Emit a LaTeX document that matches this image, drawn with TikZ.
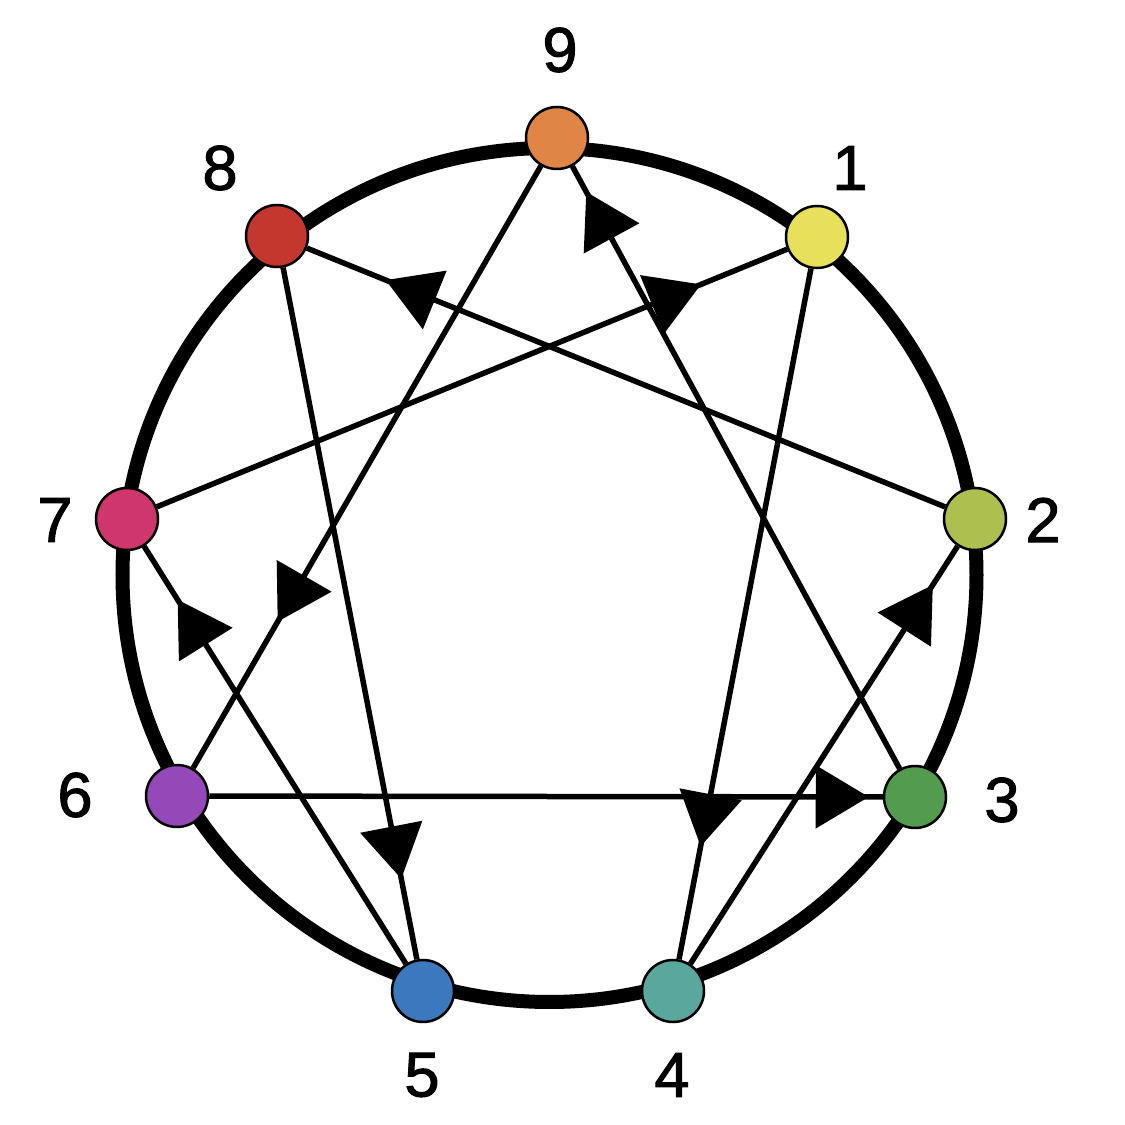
\documentclass[tikz,border=0pt]{standalone}
\usepackage{fontspec}
\setmainfont{Liberation Sans}
\newfontfamily\numfont{Liberation Sans}[RawFeature={embolden=1.6}]
\usetikzlibrary{arrows.meta, decorations.markings}

\definecolor{col9}{HTML}{DF8646}
\definecolor{col1}{HTML}{E6E05A}
\definecolor{col2}{HTML}{ADBF4E}
\definecolor{col3}{HTML}{529B4F}
\definecolor{col4}{HTML}{5AA79E}
\definecolor{col5}{HTML}{3B78BD}
\definecolor{col6}{HTML}{9549B8}
\definecolor{col7}{HTML}{CF366E}
\definecolor{col8}{HTML}{C3372F}

\begin{document}
\begin{tikzpicture}[
    vertex/.style={
        draw,
        circle,
        line width=0.025cm,
        minimum size=0.62cm,
        inner sep=0pt
    },
    num/.style={inner sep=0pt, font=\numfont\fontsize{18}{18}\selectfont},
    link/.style={line width=0.055cm},
    flow/.style={
        link,
        postaction={decorate},
        decoration={markings,
            mark=at position -#1 with {\arrow{Triangle[length=0.53cm, width=0.62cm]}}}
    }
]
\useasboundingbox (0,0) rectangle (11.25,11.25);

% Ring
\draw[line width=0.14cm] (5.495,5.50) circle (4.27);

% Points
\node[vertex, fill=col9] (p9) at (5.57,9.87) {};
\node[vertex, fill=col1] (p1) at (8.17,8.88) {};
\node[vertex, fill=col2] (p2) at (9.75,6.06) {};
\node[vertex, fill=col3] (p3) at (9.15,3.28) {};
\node[vertex, fill=col4] (p4) at (6.73,1.34) {};
\node[vertex, fill=col5] (p5) at (4.23,1.34) {};
\node[vertex, fill=col6] (p6) at (1.77,3.29) {};
\node[vertex, fill=col7] (p7) at (1.27,6.06) {};
\node[vertex, fill=col8] (p8) at (2.77,8.89) {};

% Numbers
\node[num] (n9) at (5.60,10.75) {9};
\node[num] (n1) at (8.50,9.57) {1};
\node[num] (n2) at (10.43,6.05) {2};
\node[num] (n3) at (10.02,3.25) {3};
\node[num] (n4) at (6.72,0.50) {4};
\node[num] (n5) at (4.22,0.50) {5};
\node[num] (n6) at (0.75,3.30) {6};
\node[num] (n7) at (0.55,6.05) {7};
\node[num] (n8) at (2.20,9.57) {8};

% Lines
\draw[flow=0.29cm] (p3) -- (p9);
\draw[flow=1.69cm] (p9) -- (p6);
\draw[flow=0.14cm] (p6) -- (p3);
\draw[flow=0.93cm] (p7) -- (p1);
\draw[flow=1.15cm] (p1) -- (p4);
\draw[flow=0.46cm] (p4) -- (p2);
\draw[flow=0.85cm] (p2) -- (p8);
\draw[flow=0.82cm] (p8) -- (p5);
\draw[flow=0.63cm] (p5) -- (p7);

\end{tikzpicture}
\end{document}
